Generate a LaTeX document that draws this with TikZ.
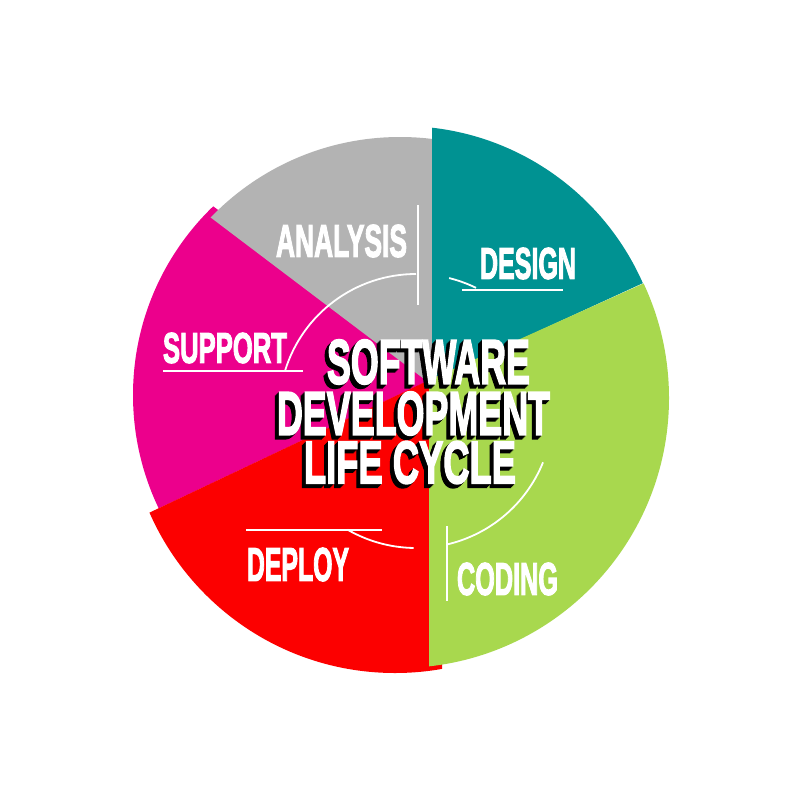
\documentclass[tikz,border=0pt]{standalone}
\usepackage{fontspec}
\usepackage{graphicx}
\newfontfamily\labfont{Liberation Sans Bold}[FakeBold=3]
\definecolor{cgray}{RGB}{179,179,179}
\definecolor{cteal}{RGB}{0,146,146}
\definecolor{cgreen}{RGB}{168,216,78}
\definecolor{cred}{RGB}{252,0,0}
\definecolor{cpink}{RGB}{236,0,140}
\newcommand\fitt[3]{\resizebox{#1pt}{#2pt}{\labfont #3}}
\tikzset{
  ring/.style={draw=white, line width=1.8pt},
  lab/.style={inner sep=0pt, text=white},
  shad/.style={inner sep=0pt, text=black},
}
\begin{document}
\begin{tikzpicture}[x=1pt,y=-1pt]
\useasboundingbox (0,0) rectangle (800,800);
\fill[white] (0,0) rectangle (800,800);
% sectors
\begin{scope}
  \clip (395,395) circle[radius=262];
  \fill[cpink] (432,372) -- (-9,38) -- (-151,655) -- (432,379) -- cycle;
\end{scope}
\begin{scope}
  \clip (400,400) circle[radius=263];
  \fill[cgray] (432,385) -- (-12,49) -- (-12,-100) -- (432,-100) -- cycle;
\end{scope}
\begin{scope}
  \clip (402,389) circle[radius=263];
  \fill[cteal] (432,380) -- (432,-100) -- (900,-100) -- (900,165) -- cycle;
\end{scope}
\begin{scope}
  \clip (395,405) circle[radius=268];
  \fill[cred] (442,374) -- (-151,655) -- (-151,900) -- (442,900) -- cycle;
\end{scope}
\begin{scope}
  \clip (399,398) circle[radius=270];
  \fill[cgreen] (429,380) -- (900,168) -- (900,900) -- (429,900) -- cycle;
\end{scope}
% ring pieces and rules
\coordinate (rc) at (416,411);
\draw[ring] (rc) ++(-90:137) arc[start angle=-90, end angle=-163, radius=137];
\draw[ring] (rc) ++(-76:137) arc[start angle=-76, end angle=-64, radius=137];
\draw[ring] (rc) ++(77:137) arc[start angle=77, end angle=22, radius=137];
\draw[ring] (rc) ++(120:137) arc[start angle=120, end angle=91, radius=137];
\coordinate (a1) at (418,205); \coordinate (a2) at (418,305);
\coordinate (s1) at (163,371); \coordinate (s2) at (303,371);
\coordinate (d1) at (462,290); \coordinate (d2) at (563,290);
\coordinate (p1) at (246,530); \coordinate (p2) at (382,530);
\coordinate (c1) at (447,526); \coordinate (c2) at (447,601);
\draw[ring] (a1) -- (a2);
\draw[ring] (s1) -- (s2);
\draw[ring] (d1) -- (d2);
\draw[ring] (p1) -- (p2);
\draw[ring] (c1) -- (c2);
% labels
\node[lab] (analysis) at (341.5,241) {\fitt{131}{32}{ANALYSIS}};
\node[lab] (support) at (225,348) {\fitt{124}{30}{SUPPORT}};
\node[lab] (design) at (528,263.5) {\fitt{96}{31}{DESIGN}};
\node[lab] (deploy) at (298,564.5) {\fitt{102}{33}{DEPLOY}};
\node[lab] (coding) at (507.5,579) {\fitt{101}{32}{CODING}};
% title with extruded shadow
\foreach \k in {1,...,4}{
  \node[shad, xshift={-1pt*\k}, yshift={-1pt*\k}] (ta\k) at (428.5,362) {\fitt{203}{44}{SOFTWARE}};
  \node[shad, xshift={-1pt*\k}, yshift={-1pt*\k}] (tb\k) at (413.5,413.5) {\fitt{273}{43}{DEVELOPMENT}};
  \node[shad, xshift={-1pt*\k}, yshift={-1pt*\k}] (tc\k) at (410,462.5) {\fitt{212}{42}{LIFE CYCLE}};
}
\node[lab] (ta) at (428.5,362) {\fitt{203}{44}{SOFTWARE}};
\node[lab] (tb) at (413.5,413.5) {\fitt{273}{43}{DEVELOPMENT}};
\node[lab] (tc) at (410,462.5) {\fitt{212}{42}{LIFE CYCLE}};
\end{tikzpicture}
\end{document}
